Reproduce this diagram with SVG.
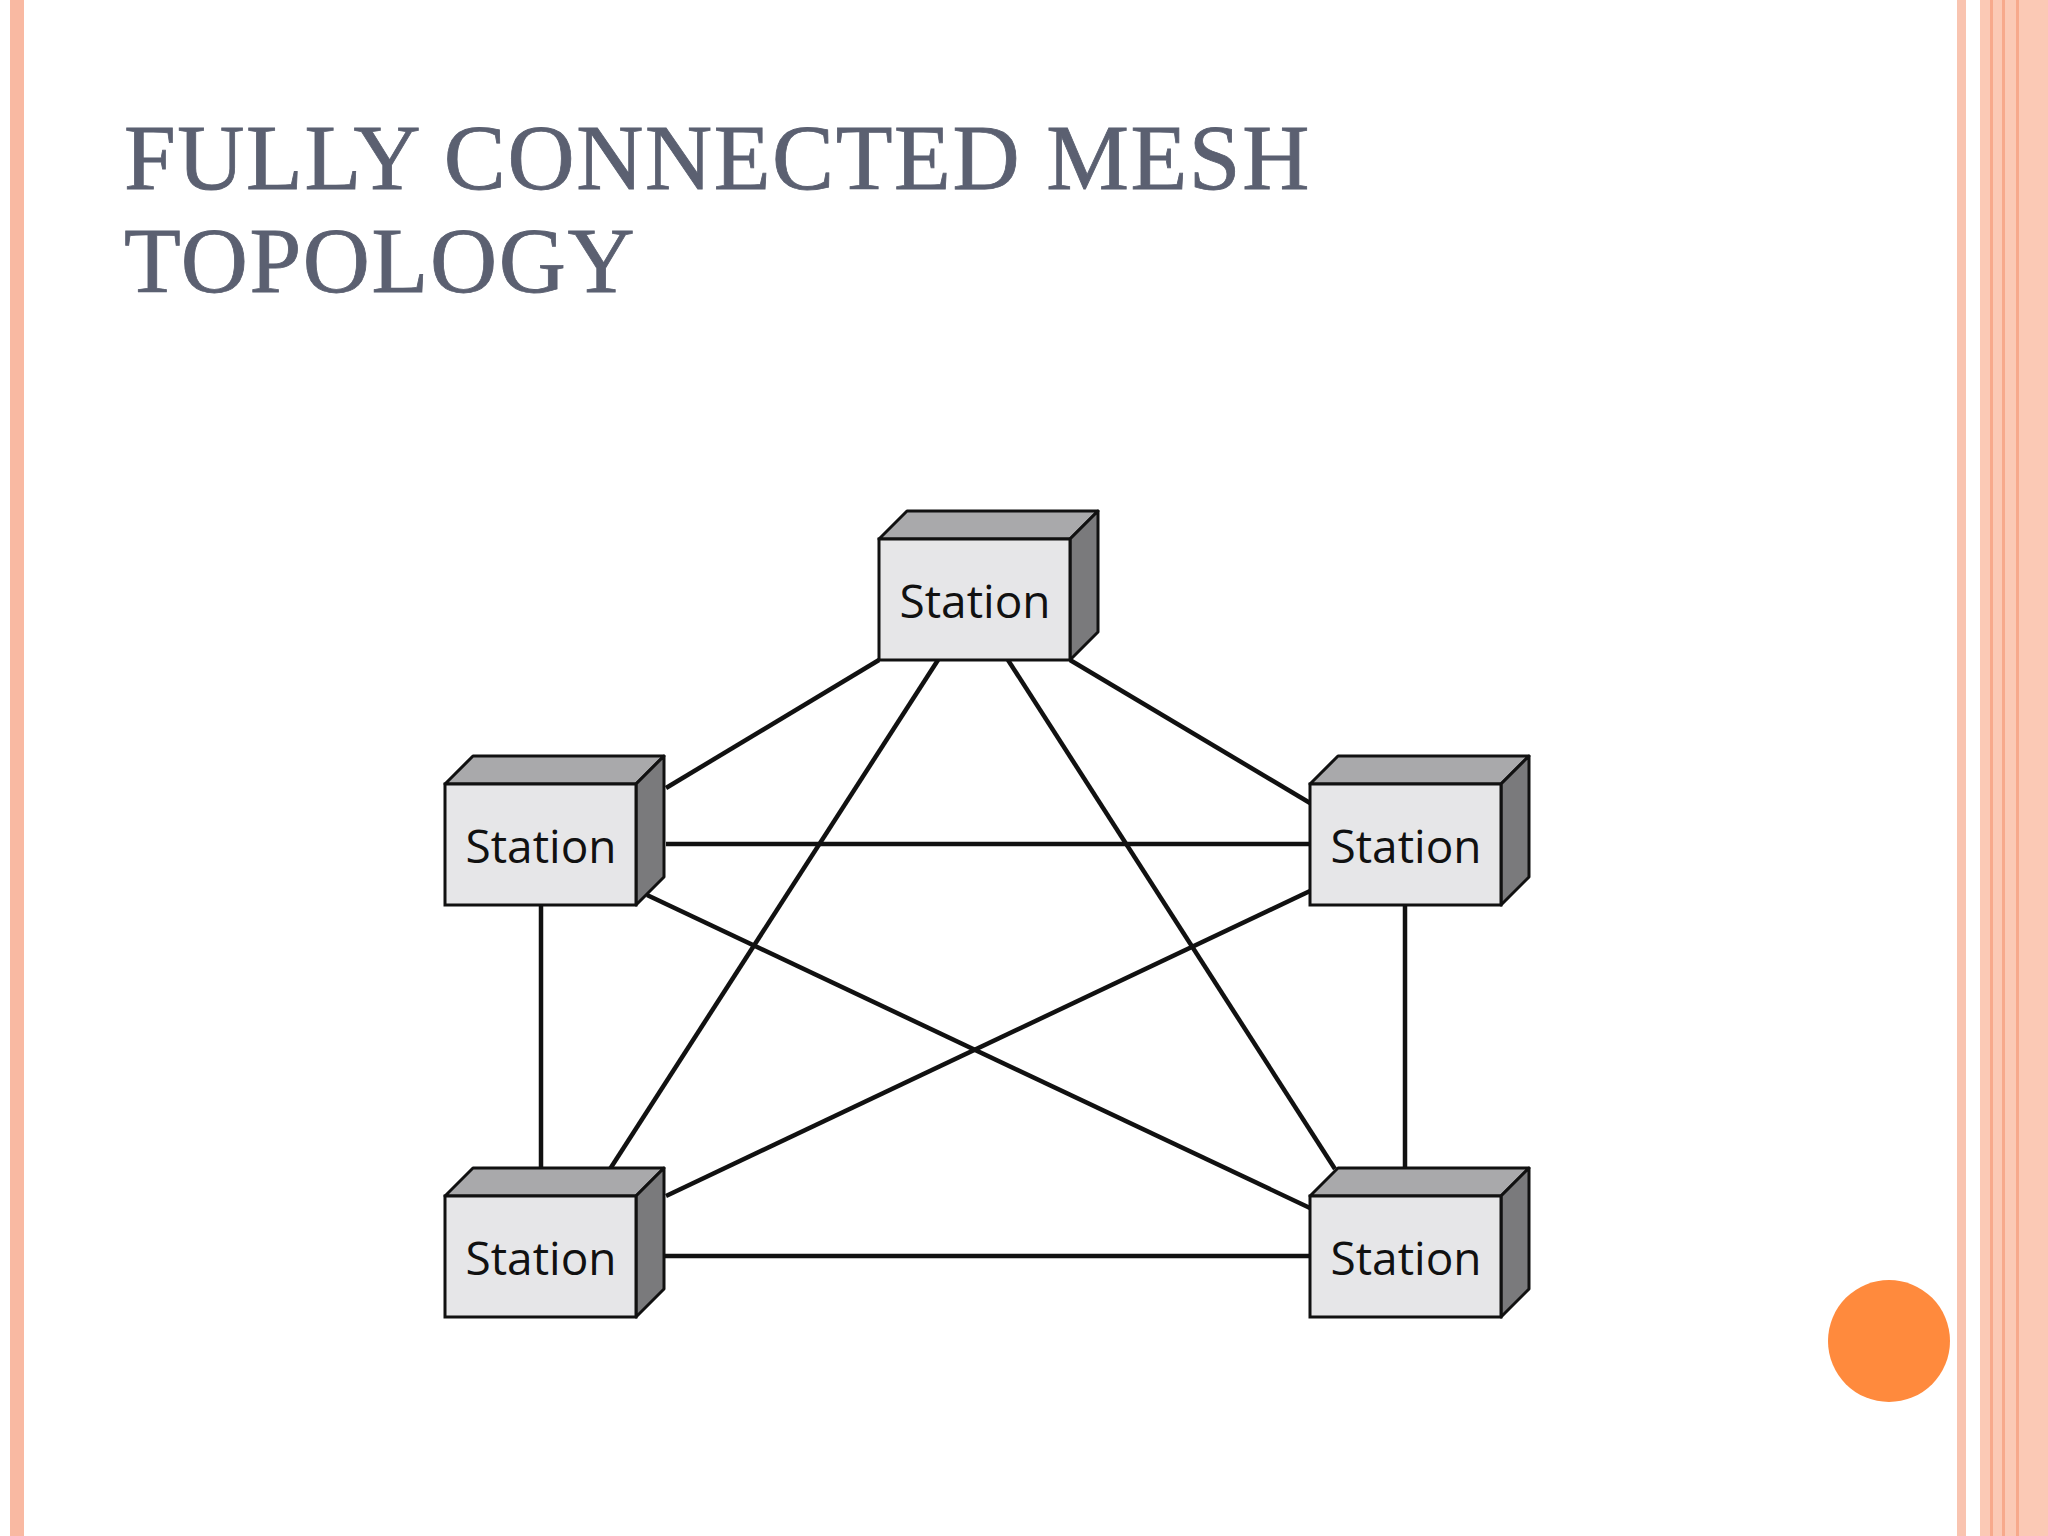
<svg xmlns="http://www.w3.org/2000/svg" width="2048" height="1536" viewBox="0 0 2048 1536">
<style>
.ln{stroke:#111;stroke-width:4.5;fill:none}
.front{fill:#e6e6e8;stroke:#111;stroke-width:3}
.top{fill:#a9a9ab;stroke:#111;stroke-width:3;stroke-linejoin:round}
.side{fill:#7a7a7c;stroke:#111;stroke-width:3;stroke-linejoin:round}
.lbl{font-family:"Open Sans","Noto Sans",sans-serif;font-size:46px;fill:#111;text-anchor:middle}
.title{font-family:"Liberation Serif",serif;font-size:93px;fill:#5b6071;letter-spacing:1.6px;stroke:#5b6071;stroke-width:0.8px}
</style>
<defs>
<g id="box">
<polygon class="top" points="0,0 28,-28 219,-28 191,0"/>
<polygon class="side" points="191,0 219,-28 219,93 191,121"/>
<rect class="front" x="0" y="0" width="191" height="121"/>
</g>
</defs>
<rect width="2048" height="1536" fill="#fff"/>
<rect x="10" y="0" width="14" height="1536" fill="#f9b9a2"/>
<rect x="1957" y="0" width="9" height="1536" fill="#f9c4b0"/>
<rect x="1980" y="0" width="68" height="1536" fill="#fbc9b5"/>
<rect x="1990" y="0" width="3" height="1536" fill="#f7a98c"/>
<rect x="2002" y="0" width="3" height="1536" fill="#f7a98c"/>
<rect x="2016" y="0" width="3" height="1536" fill="#f7a98c"/>
<text class="title" x="124" y="189">FULLY CONNECTED MESH</text>
<text class="title" x="124" y="292">TOPOLOGY</text>
<g id="connectors">
<line class="ln" x1="879" y1="660" x2="666" y2="788"/>
<line class="ln" x1="1070" y1="660" x2="1310" y2="803"/>
<line class="ln" x1="938" y1="660" x2="610" y2="1169"/>
<line class="ln" x1="1008" y1="660" x2="1335" y2="1169"/>
<line class="ln" x1="666" y1="844" x2="1310" y2="844"/>
<line class="ln" x1="647" y1="895" x2="1310" y2="1208"/>
<line class="ln" x1="1310" y1="891" x2="666" y2="1196"/>
<line class="ln" x1="541" y1="904" x2="541" y2="1169"/>
<line class="ln" x1="1405" y1="904" x2="1405" y2="1169"/>
<line class="ln" x1="636" y1="1256" x2="1310" y2="1256"/>
</g>
<g id="n_top"><use href="#box" x="879" y="539"/><text class="lbl" x="975" y="618">Station</text></g>
<g id="n_lm"><use href="#box" x="445" y="784"/><text class="lbl" x="541" y="863">Station</text></g>
<g id="n_rm"><use href="#box" x="1310" y="784"/><text class="lbl" x="1406" y="863">Station</text></g>
<g id="n_bl"><use href="#box" x="445" y="1196"/><text class="lbl" x="541" y="1275">Station</text></g>
<g id="n_br"><use href="#box" x="1310" y="1196"/><text class="lbl" x="1406" y="1275">Station</text></g>
<circle cx="1889" cy="1341" r="61" fill="#ff8a3d"/>
</svg>
